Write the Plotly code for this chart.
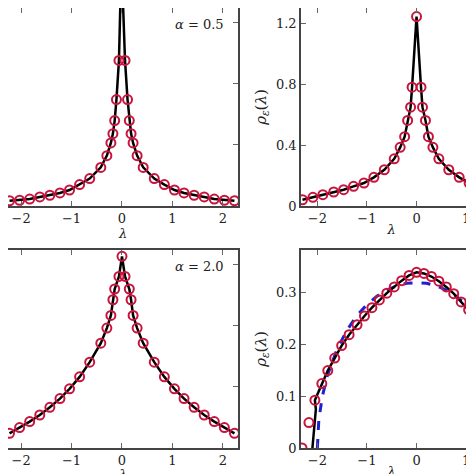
import plotly.graph_objects as go

RED = "#c8143c"
# top-left alpha=0.5 (left half, mirrored)
tl_x = [-2.23,-2.03,-1.83,-1.63,-1.43,-1.23,-1.04,-0.84,-0.64,-0.42,-0.30,-0.22,-0.18,-0.145,-0.11,-0.06]
tl_y = [0.043,0.047,0.057,0.074,0.088,0.107,0.131,0.175,0.224,0.316,0.412,0.516,0.592,0.699,0.871,1.191]
tl_line_x = [-0.03, -0.012, 0.0]
tl_line_y = [1.45, 1.75, 2.2]
# top-right alpha=1.0
tr_x = [-2.30,-2.09,-1.89,-1.67,-1.47,-1.27,-1.06,-0.86,-0.65,-0.45,-0.33,-0.24,-0.18,-0.12,-0.09]
tr_y = [0.041,0.057,0.074,0.092,0.107,0.129,0.151,0.188,0.238,0.310,0.385,0.455,0.562,0.649,0.780]
tr_peak = 1.244
# bottom-left alpha=2.0
bl_x = [-2.23,-2.03,-1.83,-1.63,-1.43,-1.23,-1.04,-0.84,-0.64,-0.42,-0.30,-0.22,-0.18,-0.145,-0.06]
bl_y = [0.120,0.167,0.216,0.270,0.333,0.404,0.484,0.582,0.702,0.858,0.981,1.085,1.213,1.301,1.404]
bl_peak = 1.568
# bottom-right
br_x = [-2.31,-2.17,-2.05,-1.91,-1.79,-1.65,-1.51,-1.36,-1.20,-1.05,-0.90,-0.75,-0.60,-0.45,-0.30,-0.15,0.0,
        0.15,0.30,0.45,0.60,0.75,0.90,1.05,1.20,1.30]
br_y = [0.0,0.049,0.092,0.124,0.149,0.173,0.197,0.218,0.237,0.254,0.270,0.285,0.298,0.310,0.322,0.332,0.338,
        0.336,0.330,0.321,0.310,0.297,0.281,0.266,0.249,0.233]
br_line_x = [-2.1,-2.07,-2.03] + br_x[2:]
br_line_y = [0.0,0.04,0.075] + br_y[2:]
sc_x = [-2.0,-1.97,-1.9,-1.8,-1.6,-1.4,-1.2,-1.0,-0.8,-0.6,-0.4,-0.2,0.0,0.2,0.4,0.6,0.8,1.0,1.2,1.4]
sc_y = [0.0,0.055,0.099,0.139,0.191,0.227,0.255,0.276,0.292,0.304,0.312,0.317,0.318,0.317,0.312,0.304,0.292,0.276,0.255,0.227]

def sym(x, y, peak=None):
    xs = list(x) + ([0.0] if peak is not None else []) + [-v for v in reversed(x)]
    ys = list(y) + ([peak] if peak is not None else []) + list(reversed(y))
    return xs, ys

fig = go.Figure()
def add(xs, ys, ax, lx=None, ly=None):
    xa, ya = ("x" if ax == 1 else f"x{ax}"), ("y" if ax == 1 else f"y{ax}")
    fig.add_trace(go.Scatter(x=lx if lx else xs, y=ly if ly else ys, mode="lines",
                             line=dict(color="black", width=2.5), xaxis=xa, yaxis=ya, showlegend=False))
    fig.add_trace(go.Scatter(x=xs, y=ys, mode="markers", xaxis=xa, yaxis=ya, showlegend=False,
                             marker=dict(symbol="circle-open", size=9, color=RED, line=dict(width=2, color=RED))))

xs, ys = sym(tl_x, tl_y)
lx = tl_x + tl_line_x + [-v for v in reversed(tl_line_x)] + [-v for v in reversed(tl_x)]
ly = tl_y + tl_line_y + list(reversed(tl_line_y)) + list(reversed(tl_y))
add(xs, ys, 1, lx=lx, ly=ly)
xs, ys = sym(tr_x, tr_y, tr_peak)
add(xs, ys, 2)
xs, ys = sym(bl_x, bl_y, bl_peak)
add(xs, ys, 3)
fig.add_trace(go.Scatter(x=sc_x, y=sc_y, mode="lines", line=dict(color="#2020d0", width=3, dash="dash"),
                         xaxis="x4", yaxis="y4", showlegend=False))
add(br_x, br_y, 4, lx=br_line_x, ly=br_line_y)

F = dict(family="DejaVu Serif, serif", size=13, color="#222")
common_x = dict(showline=True, mirror="ticks", linecolor="#444", linewidth=1.5, ticks="inside",
                ticklen=5, tickcolor="#666", showgrid=False, zeroline=False, tickfont=F, automargin=False,
                tickvals=[-2,-1,0,1,2], title=dict(text="<i>λ</i>", font=F, standoff=0))
L = [0, 230/474]; R = [293/474, 1]
T = [1-198/474, 1]; B = [34/474, 232/474]
lay = dict(width=474, height=474, margin=dict(l=0, r=0, t=0, b=0, autoexpand=False),
           plot_bgcolor="white", paper_bgcolor="white")
lay["xaxis"] = dict(common_x, domain=L, range=[-2.26, 2.3], anchor="y")
lay["xaxis2"] = dict(common_x, domain=R, range=[-2.33, 1.32], anchor="y2")
lay["xaxis3"] = dict(common_x, domain=L, range=[-2.26, 2.3], anchor="y3")
lay["xaxis4"] = dict(common_x, domain=R, range=[-2.33, 1.32], anchor="y4")
left_y = dict(side="right", showline=True, linecolor="#444", linewidth=1.5, ticks="inside", ticklen=5,
              tickcolor="#666", showticklabels=False, showgrid=False, zeroline=False, automargin=False,
              tickvals=[0.5, 1.0, 1.5])
right_y = dict(showline=True, mirror="ticks", linecolor="#444", linewidth=1.5, ticks="inside", ticklen=5,
               tickcolor="#666", showgrid=False, zeroline=False, tickfont=F, automargin=False,
               title=dict(text="<i>ρ<sub>ε</sub></i>(<i>λ</i>)", font=dict(F, size=15), standoff=6))
lay["yaxis"] = dict(left_y, domain=T, range=[0, 1.62], anchor="x")
lay["yaxis3"] = dict(left_y, domain=B, range=[0, 1.62], anchor="x3")
lay["yaxis2"] = dict(right_y, domain=T, range=[0, 1.30], anchor="x2", tickvals=[0, 0.4, 0.8, 1.2],
                     ticktext=["0", "0.4", "0.8", "1.2"])
lay["yaxis4"] = dict(right_y, domain=B, range=[0, 0.381], anchor="x4", tickvals=[0, 0.1, 0.2, 0.3],
                     ticktext=["0", "0.1", "0.2", "0.3"])
fig.update_layout(**lay)
for txt, x, y in [("<i>α</i> = 0.5", 218/474, 1-16/474), ("<i>α</i> = 2.0", 218/474, 1-258/474),
                  ("<i>α</i> = 1.0", 458/474, 1-16/474), ("<i>α</i> = 1.0", 458/474, 1-258/474)]:
    fig.add_annotation(text=txt, x=x, y=y, xref="paper", yref="paper", showarrow=False,
                       xanchor="right" if x < 0.6 else "left", yanchor="middle", font=F)
fig.write_html("out.html")
